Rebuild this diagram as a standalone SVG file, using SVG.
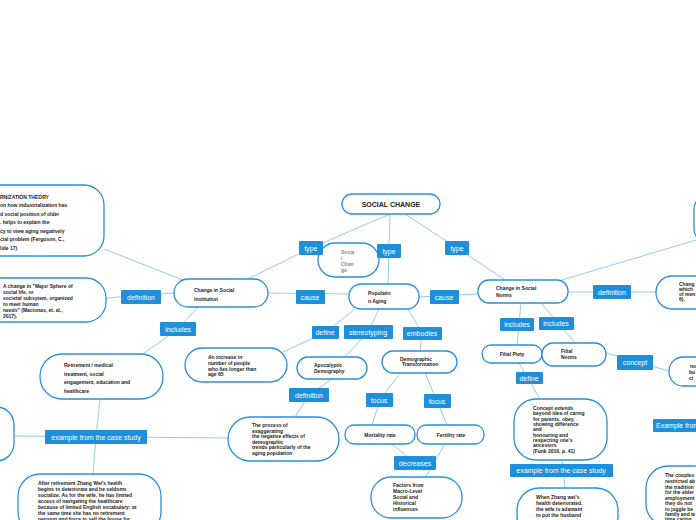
<svg xmlns="http://www.w3.org/2000/svg" width="696" height="520" viewBox="0 0 696 520">
<style>
.n{fill:#fff;stroke:#2a8fdd;stroke-width:1.3}
.t{font-family:"Liberation Sans",Arial,sans-serif;font-size:5px;font-weight:bold;fill:#222}
.l{fill:#1e90db}
.lt{font-family:"Liberation Sans",Arial,sans-serif;font-size:7px;fill:#fff;text-anchor:middle}
.c line,.c path{stroke:#93cdf1;stroke-width:1;fill:none}
</style>
<rect width="696" height="520" fill="#fff"/>
<g class="c">
<line x1="390" y1="214" x2="311" y2="248"/><line x1="311" y1="248" x2="248" y2="279"/>
<line x1="390" y1="214" x2="388" y2="284"/>
<line x1="405" y1="214" x2="457" y2="248"/><line x1="457" y1="248" x2="505" y2="280"/>
<line x1="268" y1="293" x2="349" y2="294"/>
<line x1="419" y1="297" x2="478" y2="294"/>
<line x1="104" y1="249" x2="183" y2="280"/>
<line x1="106" y1="298" x2="174" y2="293"/>
<line x1="198" y1="307" x2="178" y2="329"/><line x1="178" y1="329" x2="143" y2="354"/>
<line x1="355" y1="309" x2="326" y2="332"/><line x1="326" y1="332" x2="283" y2="352"/>
<line x1="379" y1="309" x2="368" y2="332"/><line x1="368" y1="332" x2="345" y2="357"/>
<line x1="408" y1="309" x2="422" y2="333"/><line x1="422" y1="333" x2="420" y2="351"/>
<line x1="332" y1="379" x2="309" y2="395"/><line x1="309" y1="395" x2="295" y2="417"/>
<line x1="400" y1="373" x2="380" y2="400"/><line x1="380" y1="400" x2="372" y2="425"/>
<line x1="425" y1="373" x2="437" y2="401"/><line x1="437" y1="401" x2="447" y2="425"/>
<line x1="392" y1="444" x2="415" y2="463"/><line x1="445" y1="444" x2="425" y2="478"/>
<line x1="100" y1="399" x2="96" y2="437"/><line x1="96" y1="437" x2="93" y2="475"/>
<line x1="14" y1="436" x2="228" y2="438"/>
<line x1="568" y1="292" x2="656" y2="292"/>
<line x1="562" y1="280" x2="696" y2="240"/>
<line x1="521" y1="303" x2="517" y2="345"/>
<line x1="541" y1="303" x2="575" y2="343"/>
<line x1="606" y1="353" x2="669" y2="371"/>
<line x1="519" y1="363" x2="540" y2="399"/>
<line x1="562" y1="460" x2="565" y2="488"/>
</g>
<g id="n-social-change"><rect class="n" x="342" y="194" width="98" height="20" rx="10"/><text class="t" x="391" y="207" style="font-size:7px;text-anchor:middle">SOCIAL CHANGE</text></g>
<g id="n-modern"><rect class="n" x="-20" y="185" width="124" height="71" rx="20"/><text class="t" x="0" y="199">RNIZATION THEORY</text><text class="t" x="0" y="207">on how industrialization has</text><text class="t" x="0" y="216">d social position of older</text><text class="t" x="0" y="224">. helps to explain the</text><text class="t" x="0" y="233">cy to view aging negatively</text><text class="t" x="0" y="241">cial problem (Ferguson, C.,</text><text class="t" x="0" y="250">lide 17)</text></g>
<g id="n-csi"><rect class="n" x="174" y="279" width="94" height="28" rx="14"/><text class="t" x="194" y="292">Change in Social</text><text class="t" x="194" y="301">Institution</text></g>
<g id="n-def-left"><rect class="n" x="-20" y="278" width="126" height="44" rx="20"/><text class="t" x="3" y="288">A change in "Major Sphere of</text><text class="t" x="3" y="294"> social life, or</text><text class="t" x="3" y="300"> societal subsytem, organized</text><text class="t" x="3" y="306">to meet human</text><text class="t" x="3" y="312"> needs" (Macionas, et. al.,</text><text class="t" x="3" y="318">2017).</text></g>
<g id="n-soc-grey"><rect class="n" x="318" y="243" width="61" height="34" rx="17"/><text class="t" x="341" y="254" style="fill:#888">Socia</text><text class="t" x="341" y="260" style="fill:#888">l</text><text class="t" x="341" y="266" style="fill:#888">Chan</text><text class="t" x="341" y="272" style="fill:#888">ge</text></g>
<g id="n-pop"><rect class="n" x="349" y="284" width="70" height="25" rx="12"/><text class="t" x="368" y="295">Populatio</text><text class="t" x="368" y="303">n Aging</text></g>
<g id="n-csn"><rect class="n" x="478" y="280" width="90" height="23" rx="11"/><text class="t" x="496" y="290">Change in Social</text><text class="t" x="496" y="297">Norms</text></g>
<g id="n-right-top"><rect class="n" x="694" y="195" width="30" height="48" rx="14"/></g>
<g id="n-right-def"><rect class="n" x="656" y="276" width="60" height="33" rx="16"/><text class="t" x="679" y="286">Chang</text><text class="t" x="679" y="291">which</text><text class="t" x="679" y="296">of men</text><text class="t" x="679" y="301">6).</text></g>
<g id="n-retire"><rect class="n" x="40" y="354" width="123" height="45" rx="22"/><text class="t" x="64" y="367">Retirement / medical</text><text class="t" x="64" y="376">treatment, social</text><text class="t" x="64" y="384">engagement, education and</text><text class="t" x="64" y="393">healthcare</text></g>
<g id="n-increase"><rect class="n" x="185" y="348" width="102" height="34" rx="17"/><text class="t" x="208" y="359">An increase in</text><text class="t" x="208" y="365">number of people</text><text class="t" x="208" y="371">who lies longer than</text><text class="t" x="208" y="376">age 65</text></g>
<g id="n-apoc"><rect class="n" x="297" y="357" width="70" height="22" rx="11"/><text class="t" x="314" y="367">Apocalyptic</text><text class="t" x="314" y="373">Demography</text></g>
<g id="n-demo"><rect class="n" x="382" y="351" width="75" height="22" rx="11"/><text class="t" x="400" y="361">Demographic</text><text class="t" x="402" y="366">Transformation</text></g>
<g id="n-left-part"><rect class="n" x="-20" y="407" width="34" height="54" rx="18"/></g>
<g id="n-process"><rect class="n" x="228" y="417" width="111" height="44" rx="22"/><text class="t" x="252" y="427">The process of</text><text class="t" x="252" y="433">exaggerating</text><text class="t" x="252" y="438"> the negative effects of</text><text class="t" x="252" y="444">demographic</text><text class="t" x="252" y="449">trends particularly of the</text><text class="t" x="252" y="455">aging population</text></g>
<g id="n-mort"><rect class="n" x="345" y="425" width="70" height="19" rx="9"/><text class="t" x="380" y="437" style="text-anchor:middle">Mortality rate</text></g>
<g id="n-fert"><rect class="n" x="417" y="425" width="67" height="19" rx="9"/><text class="t" x="451" y="437" style="text-anchor:middle">Fertility rate</text></g>
<g id="n-factors"><rect class="n" x="371" y="477" width="91" height="41" rx="20"/><text class="t" x="393" y="487">Factors  from</text><text class="t" x="393" y="493">Macro-Level</text><text class="t" x="393" y="499">Social and</text><text class="t" x="393" y="505">Historical</text><text class="t" x="393" y="511">influences</text></g>
<g id="n-after"><rect class="n" x="18" y="474" width="143" height="60" rx="22"/><text class="t" x="38" y="485">After retirement Zhang Wei's health</text><text class="t" x="38" y="491">begins to deteriorate and he seldoms</text><text class="t" x="38" y="497">socialize. As for the wife, he has limited</text><text class="t" x="38" y="503">access of navigating the healthcare</text><text class="t" x="38" y="509">because of limited English vocabulary; at</text><text class="t" x="38" y="515">the same time she has no retirement</text><text class="t" x="38" y="521">pension and force to sell the house for</text></g>
<g id="n-piety"><rect class="n" x="482" y="345" width="60" height="18" rx="9"/><text class="t" x="512" y="356" style="text-anchor:middle">Filial Piety</text></g>
<g id="n-fnorms"><rect class="n" x="542" y="343" width="64" height="23" rx="11"/><text class="t" x="561" y="353">Filial</text><text class="t" x="561" y="359">Norms</text></g>
<g id="n-concept"><rect class="n" x="669" y="357" width="50" height="29" rx="14"/><text class="t" x="690" y="368">no</text><text class="t" x="689" y="374">bu</text><text class="t" x="689" y="380">ci</text></g>
<g id="n-extends"><rect class="n" x="514" y="399" width="93" height="61" rx="22"/><text class="t" x="533" y="410">Concept extends</text><text class="t" x="533" y="415">beyond idea of caring</text><text class="t" x="533" y="421">for parents, obey,</text><text class="t" x="533" y="426">showing difference</text><text class="t" x="533" y="431">and</text><text class="t" x="533" y="437"> honouring and</text><text class="t" x="533" y="442">respecting one's</text><text class="t" x="533" y="447">ancestors</text><text class="t" x="533" y="453"> (Funk 2016, p. 41)</text></g>
<g id="n-zhang"><rect class="n" x="517" y="488" width="101" height="50" rx="22"/><text class="t" x="536" y="499">When Zhang wei's</text><text class="t" x="536" y="505">health deteriorated,</text><text class="t" x="536" y="511">the wife is adamant</text><text class="t" x="536" y="517">to put the husband</text></g>
<g id="n-couples"><rect class="n" x="646" y="466" width="70" height="60" rx="22"/><text class="t" x="665" y="477">The couples</text><text class="t" x="665" y="483">restricted ab</text><text class="t" x="665" y="489">the tradition</text><text class="t" x="665" y="494">for the elder</text><text class="t" x="665" y="500">employment</text><text class="t" x="665" y="505">they do not</text><text class="t" x="665" y="511">to juggle be</text><text class="t" x="665" y="516">family and w</text><text class="t" x="665" y="521">time caring</text></g>
<g id="labels">
<rect class="l" x="299" y="241" width="24" height="14" rx="1"/><text class="lt" x="311" y="251">type</text>
<rect class="l" x="377" y="244" width="24" height="14" rx="1"/><text class="lt" x="389" y="254">type</text>
<rect class="l" x="445" y="241" width="24" height="14" rx="1"/><text class="lt" x="457" y="251">type</text>
<rect class="l" x="296" y="290" width="29" height="14" rx="1"/><text class="lt" x="310" y="300">cause</text>
<rect class="l" x="430" y="290" width="29" height="14" rx="1"/><text class="lt" x="444" y="300">cause</text>
<rect class="l" x="121" y="290" width="40" height="14" rx="1"/><text class="lt" x="141" y="300">definition</text>
<rect class="l" x="160" y="322" width="36" height="14" rx="1"/><text class="lt" x="178" y="332">includes</text>
<rect class="l" x="312" y="326" width="27" height="13" rx="1"/><text class="lt" x="325" y="335">define</text>
<rect class="l" x="344" y="325" width="49" height="14" rx="1"/><text class="lt" x="368" y="335">stereotyping</text>
<rect class="l" x="403" y="327" width="39" height="13" rx="1"/><text class="lt" x="422" y="336">embodies</text>
<rect class="l" x="289" y="388" width="40" height="14" rx="1"/><text class="lt" x="309" y="398">definition</text>
<rect class="l" x="366" y="393" width="27" height="14" rx="1"/><text class="lt" x="379" y="403">focus</text>
<rect class="l" x="424" y="394" width="27" height="14" rx="1"/><text class="lt" x="437" y="404">focus</text>
<rect class="l" x="394" y="456" width="42" height="14" rx="1"/><text class="lt" x="415" y="466">decreases</text>
<rect class="l" x="45" y="430" width="102" height="14" rx="1"/><text class="lt" x="96" y="440">example from the case study</text>
<rect class="l" x="500" y="318" width="34" height="13" rx="1"/><text class="lt" x="517" y="327">includes</text>
<rect class="l" x="539" y="317" width="35" height="13" rx="1"/><text class="lt" x="556" y="326">includes</text>
<rect class="l" x="593" y="285" width="38" height="14" rx="1"/><text class="lt" x="612" y="295">definition</text>
<rect class="l" x="617" y="355" width="36" height="15" rx="1"/><text class="lt" x="635" y="365">concept</text>
<rect class="l" x="516" y="372" width="27" height="12" rx="1"/><text class="lt" x="529" y="381">define</text>
<rect class="l" x="510" y="464" width="103" height="13" rx="1"/><text class="lt" x="561" y="473">example from the case study</text>
<rect class="l" x="653" y="419" width="50" height="13" rx="1"/><text class="lt" x="656" y="428" style="text-anchor:start">Example from</text>
</g>
</svg>
